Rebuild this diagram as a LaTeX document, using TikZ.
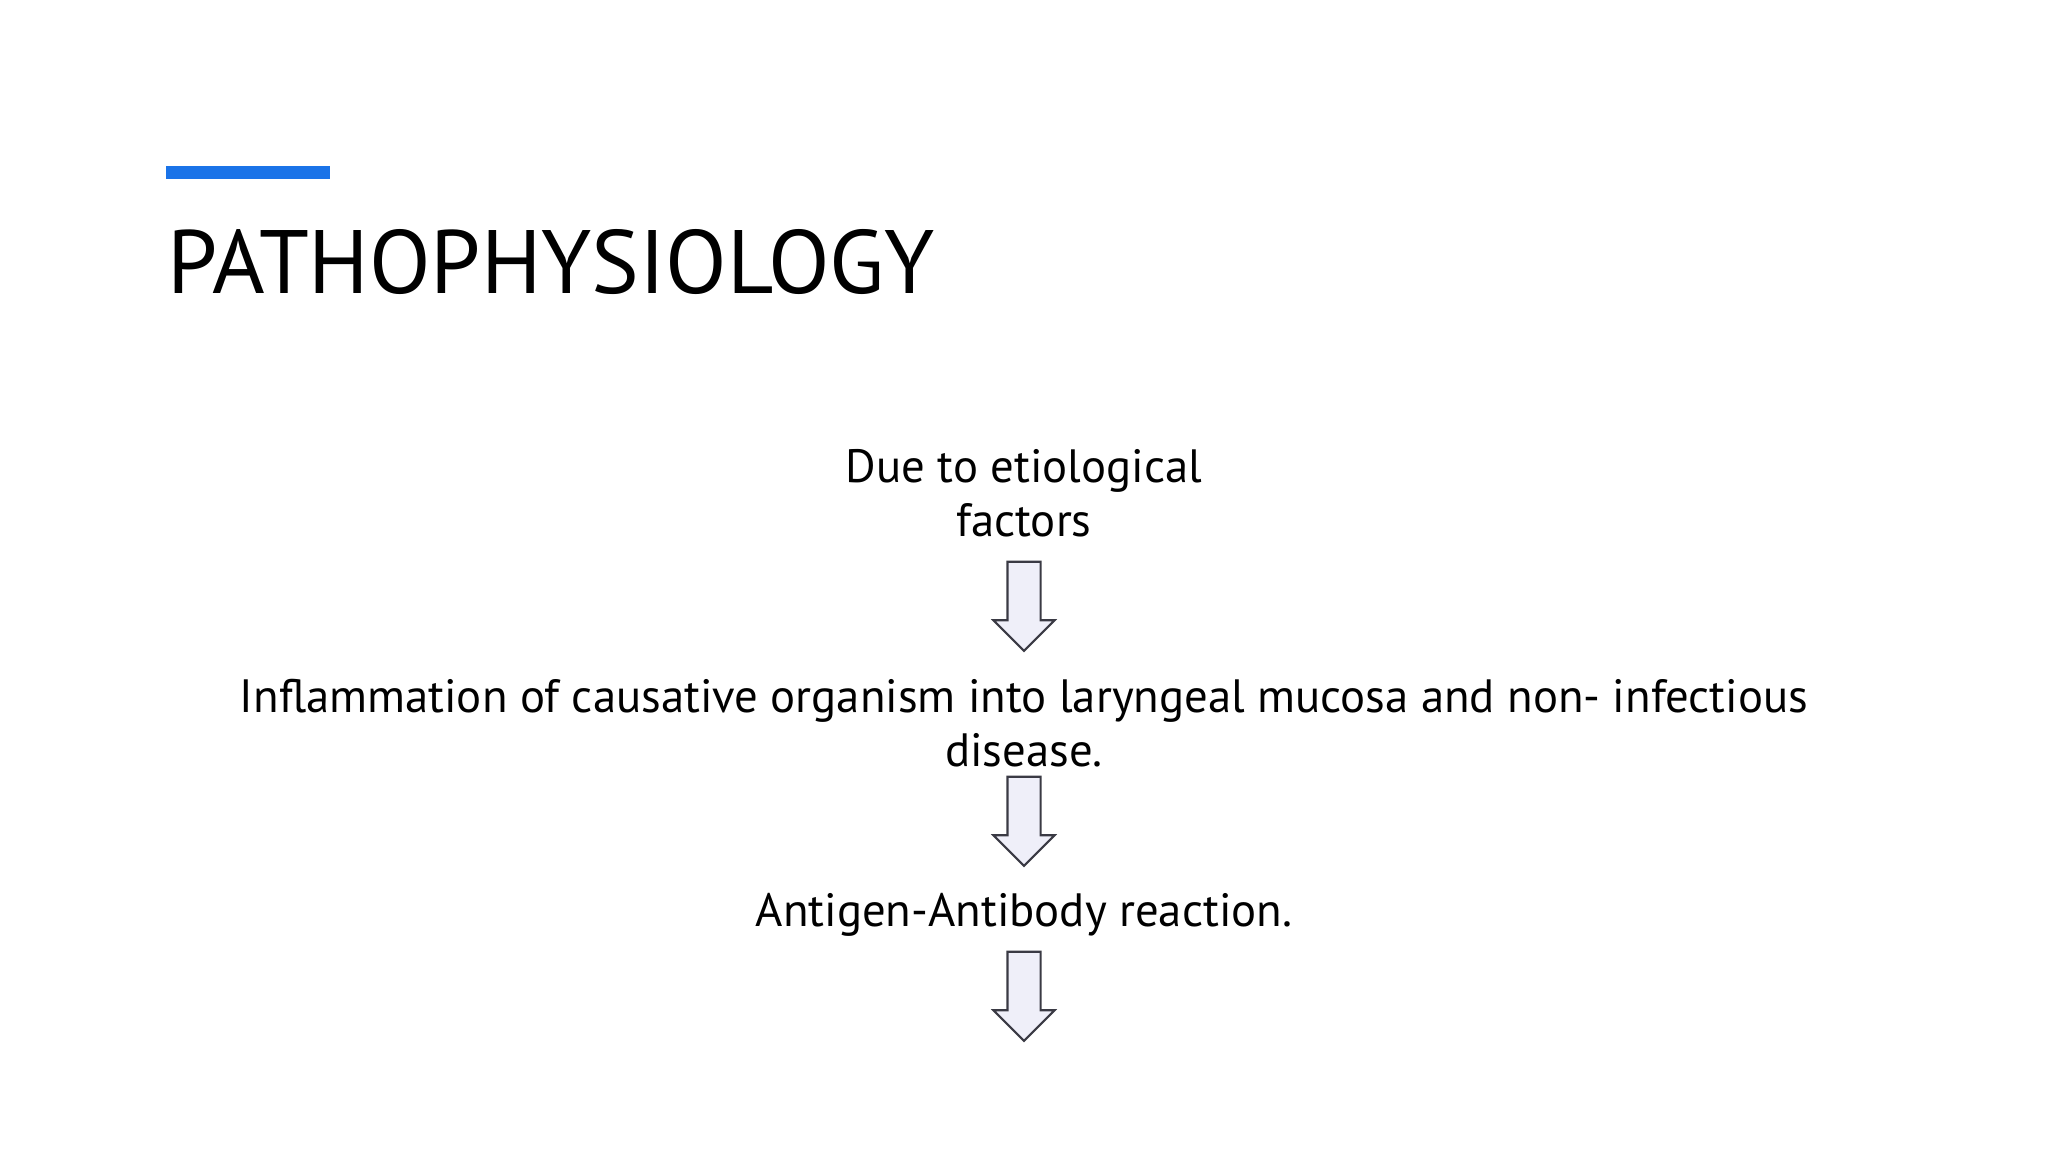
\documentclass[tikz,border=0pt]{standalone}
\usepackage{fontspec}
\setmainfont{PT Sans}
\usetikzlibrary{shapes.arrows}
\definecolor{barblue}{HTML}{1A73E8}
\definecolor{arrowfill}{HTML}{EFEFF9}
\definecolor{arrowline}{HTML}{3A3A44}
\begin{document}
\begin{tikzpicture}[
    step text/.style={font=\fontsize{13.3}{15.4}\selectfont,align=center,inner sep=0pt},
    down arrow/.style={single arrow,shape border rotate=270,draw=arrowline,line width=0.6pt,fill=arrowfill,
      inner sep=0.155cm,minimum height=0.89cm,single arrow head extend=0.14cm,single arrow head indent=0pt}
    ]
    \useasboundingbox (0,0) rectangle (20.48,-11.52);

    \fill[barblue] (1.66,-1.66) rectangle (3.30,-1.79);
    \node[anchor=base west,inner sep=0pt,font=\fontsize{25.6}{28}\selectfont] (title) at (1.67,-2.94) {PATHOPHYSIOLOGY};

    \node[step text] (due) at (10.24,-4.93) {Due to etiological\\factors};
    \node[down arrow,below of=due,yshift=-.05cm] (arr1) {};
    \node[step text,below of=arr1,yshift=-.25cm] (infl) {Inflammation of causative organism into laryngeal mucosa and non- infectious\\disease.};
    \node[down arrow,below of=infl,yshift=.10cm] (arr2) {};
    \node[step text,below of=arr2,yshift=-.02cm] (anti) {Antigen-Antibody reaction.};
    \node[down arrow,below of=anti,yshift=.27cm] (arr3) {};
  \end{tikzpicture}
\end{document}
